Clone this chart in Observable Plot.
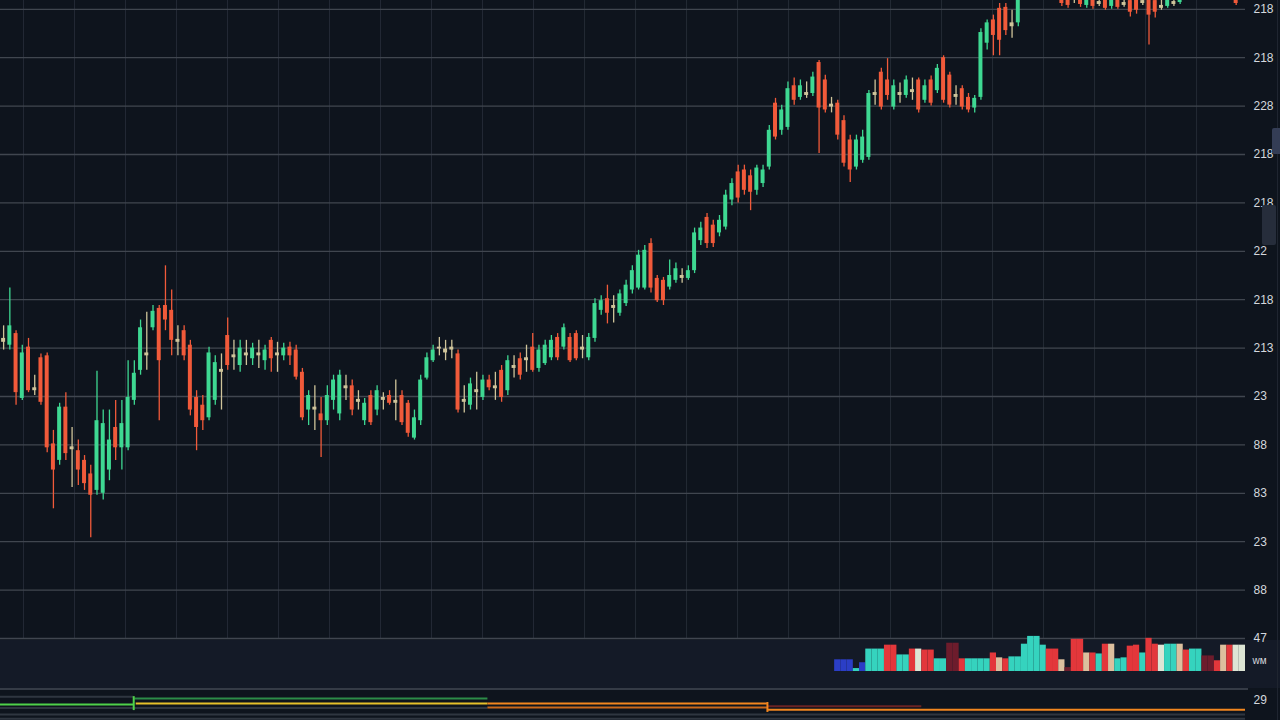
<!DOCTYPE html>
<html>
<head>
<meta charset="utf-8">
<script src="https://cdn.jsdelivr.net/npm/d3@7"></script>
<script src="https://cdn.jsdelivr.net/npm/@observablehq/plot@0.6"></script>
<style>
  html, body { margin: 0; padding: 0; background: #0e141d; }
  #wrap { position: relative; width: 1280px; height: 720px; overflow: hidden; background: #0e141d; font-family: "Liberation Sans", sans-serif; }
  #wrap > div { position: absolute; }
  #volbg { left: 0; top: 640px; width: 1280px; height: 48px; background: #141a27; }
  #sep { left: 0; top: 688px; width: 1248px; height: 2px; background: #353b46; }
  #main { left: 0; top: 0; }
  #vol { left: 0; top: 632px; }
  #ind { left: 0; top: 689px; }
  #tab { left: 1272px; top: 128px; width: 8px; height: 26px; background: #343d55; border-radius: 2px 0 0 2px; }
  #tools { left: 1262px; top: 205px; width: 14px; height: 40px; background: #262d3b; border-radius: 2px; }
  #edge { left: 1277px; top: 0; width: 1px; height: 720px; background: #1f2530; }
</style>
</head>
<body>
<div id="wrap">
  <div id="volbg"></div>
  <div id="sep"></div>
  <div id="edge"></div>
  <div id="main"></div>
  <div id="vol"></div>
  <div id="ind"></div>
  <div id="tab"></div>
  <div id="tools"></div>
</div>
<script>
// ---- price candles (one per session) ----
const opens = [
  306,303,315,248,301,256,290,292,201,184,
  239,195,194,184,170,153,150,174,218,197,
  197,246,277,292,321,341,344,339,306,318,
  303,249,241,228,246,275,313,290,282,292,
  289,292,287,308,292,292,301,298,275,236,
  236,232,225,246,232,258,261,244,225,251,
  236,246,251,243,251,243,207,225,269,287,
  299,295,298,294,244,241,254,249,267,258,
  277,256,279,289,287,301,279,284,290,311,
  301,311,315,298,290,310,339,351,341,336,
  346,360,362,362,408,372,370,363,370,372,
  372,380,411,435,427,419,425,453,482,484,
  478,463,470,487,553,525,528,571,559,561,
  563,595,577,549,553,535,515,487,494,497,
  561,585,577,549,561,561,564,577,556,577,
  566,600,582,559,568,559,548,559,615,639,
  651,652,632,636,675,690,716,706,701,690,
  675,670,663,668,654,664,655,665,653,663,
  654,659,661,656,662,659,651,653,655,657,
  664,675,695,680,701,685,672,690,664,668
];
const closes = [
  310,323,254,295,256,259,244,197,174,239,
  191,198,174,160,148,225,222,205,197,222,
  249,274,321,295,338,287,329,308,309,292,
  236,218,225,295,285,278,282,293,300,295,
  300,295,298,289,295,300,292,270,228,251,
  239,225,251,267,272,261,236,247,243,223,
  256,249,243,246,223,212,228,267,290,298,
  301,299,301,236,247,263,257,267,259,261,
  249,287,282,272,290,277,298,303,308,290,
  321,287,289,301,311,346,349,336,344,356,
  365,380,396,401,362,349,349,375,382,375,
  380,419,424,408,408,432,458,470,455,463,
  461,486,484,525,518,546,568,556,571,564,
  580,548,546,552,520,491,484,515,518,563,
  564,549,561,571,564,577,567,546,571,553,
  589,556,551,562,549,546,558,626,636,623,
  618,628,636,661,701,711,695,685,680,670,
  656,654,666,655,668,653,658,651,664,652,
  657,647,649,659,644,647,654,665,658,670,
  680,695,680,701,685,672,690,675,656,680
];
const highs = [
  323,362,318,303,310,272,294,295,215,243,
  254,218,205,189,179,276,236,236,246,246,
  287,287,329,337,344,344,385,360,323,323,
  308,256,251,301,292,294,331,308,308,308,
  305,308,303,311,306,305,306,303,279,256,
  261,249,261,272,277,272,267,256,248,256,
  261,254,256,267,256,246,236,272,295,303,
  311,308,308,298,261,269,275,272,272,275,
  282,292,292,295,303,315,303,308,313,315,
  325,315,318,313,315,351,354,365,354,360,
  370,385,401,406,413,375,373,391,388,382,
  385,424,430,439,432,437,463,475,489,489,
  484,489,489,530,558,551,575,579,577,575,
  585,597,582,559,556,540,520,520,525,566,
  577,589,599,577,574,581,579,579,577,581,
  593,602,585,571,571,563,561,630,639,644,
  656,656,649,664,706,716,721,711,706,695,
  680,675,675,672,672,670,664,670,668,668,
  663,662,664,664,664,662,664,670,663,675,
  685,701,701,706,706,690,695,695,670,685
];
const lows = [
  298,298,241,246,254,251,241,192,134,179,
  184,156,158,153,104,148,143,163,184,174,
  194,241,272,277,318,225,318,292,292,287,
  230,194,215,225,241,236,277,277,275,282,
  282,279,277,275,275,287,282,267,225,220,
  215,187,220,236,225,246,230,236,220,220,
  230,236,241,225,220,208,205,220,267,285,
  292,287,289,233,233,236,236,246,256,246,
  244,251,269,267,275,275,275,282,287,287,
  298,285,287,289,287,306,334,325,326,333,
  343,356,360,360,357,347,344,360,367,367,
  370,377,406,403,404,415,422,447,450,458,
  442,458,466,484,515,520,525,551,556,558,
  560,501,543,543,515,487,471,484,491,494,
  551,546,556,546,553,558,556,543,553,550,
  563,553,548,551,546,543,543,556,608,602,
  602,623,620,632,670,685,690,680,675,665,
  653,651,656,652,651,650,653,649,650,650,
  652,642,645,654,613,641,649,651,653,655,
  662,672,675,675,680,668,670,670,654,664
];

// ---- price axis ----
const priceTicks  = [0, 50, 100, 150, 200, 250, 300, 350, 400, 450, 500, 550, 600, 650];
const priceLabels = ["47", "88", "23", "83", "88", "23", "213", "218", "22", "218", "218", "228", "218", "218"];

// ---- volume (only the latest sessions are shown) ----
const volFirstSession = 134;
const volumes = [
  12,12,12,3,9,23,23,23,27,27,
  17,17,23,23,22,22,13,13,29,29,
  13,13,13,13,13,19,14,13,15,15,
  28,36,36,27,23,23,12,4,33,33,
  19,19,18,28,28,13,14,26,27,19,
  34,28,27,28,28,28,22,23,23,16,
  16,11,27,27,27,27
];
const volKinds = [
  "b","b","b","t","b","t","t","t","r","r",
  "t","t","r","w","r","r","t","t","m","m",
  "r","t","t","t","t","r","y","r","t","t",
  "t","t","t","t","r","r","y","m","r","r",
  "y","r","t","r","y","t","t","r","r","t",
  "r","r","w","t","t","y","r","t","t","m",
  "m","r","y","r","w","w"
];
const volLabelTicks = [11];
const volLabels = ["ᴡᴍ"];

// ---- lower indicator pane (step segments) ----
const indKey   = ["fast", "base", "slow", "signal", "base", "trend", "lag",  "trend", "drag", "base", "base"];
const indFrom  = [0,      0,      21.6,   21.8,     0,      78.3,    78.3,   123.2,   123.2,  0,      0];
const indTo    = [21.4,   21.4,   78.3,   78.3,     78.3,   123.2,   123.2,  200,     148,    200,    200];
const indValue = [5.2,    7.7,    7.1,    5.5,      4.0,    5.5,     4.2,    3.5,     4.6,    1.9,    0.6];
const indTickKey = ["fast", "trend"];
const indTickAt  = [21.4, 123.2];
const indTickLo  = [3.2, 2.6];
const indTickHi  = [7.7, 5.8];
const indLabelTicks = [6.5];
const indLabels = ["29"];

// ---- build tables ----
const N = opens.length;
const candles = opens.map((o, i) => ({
  t: i, open: o, close: closes[i], high: highs[i], low: lows[i],
  dir: Math.abs(closes[i] - o) <= 4 ? "flat" : closes[i] > o ? "up" : "down"
}));
const vols = volumes.map((v, k) => ({t: volFirstSession + k, v, kind: volKinds[k]}));
const segs = indKey.map((k, i) => ({key: k, from: indFrom[i], to: indTo[i], v: indValue[i]}));
const segTicks = indTickKey.map((k, i) => ({key: k, at: indTickAt[i], lo: indTickLo[i], hi: indTickHi[i]}));

const xDomain = [0, N];
const gridSessions = d3.range(3.7, N, 8.193);
const labelOf = new Map(priceTicks.map((t, i) => [t, priceLabels[i]]));
const baseStyle = {background: "transparent", color: "#d4d8de", fontFamily: "Liberation Sans, sans-serif", fontSize: "12px", overflow: "visible"};

const main = Plot.plot({
  width: 1280, height: 640,
  marginLeft: 0, marginRight: 35, marginTop: 0, marginBottom: 2,
  style: baseStyle,
  x: {domain: xDomain, axis: null},
  y: {domain: [0, 659.1], axis: null},
  color: {domain: ["up", "down", "flat"], range: ["#3ed892", "#f15a3a", "#cfc49a"]},
  marks: [
    Plot.ruleX(gridSessions, {stroke: "#242a35", strokeWidth: 1}),
    Plot.ruleY(priceTicks, {stroke: "#40464f", strokeWidth: 1.3}),
    Plot.ruleX(candles, {x: d => d.t + 0.5, y1: "low", y2: "high", stroke: "dir", strokeWidth: 1.3, clip: true}),
    Plot.rect(candles, {x1: d => d.t + 0.18, x2: d => d.t + 0.82, y1: "open", y2: "close", fill: "dir", clip: true}),
    Plot.axisY(priceTicks, {anchor: "right", label: null, tickSize: 0, tickPadding: 8, tickFormat: d => labelOf.get(d), fill: "#d4d8de"})
  ]
});
document.getElementById("main").append(main);

const vol = Plot.plot({
  width: 1280, height: 56,
  marginLeft: 0, marginRight: 35, marginTop: 0, marginBottom: 17,
  style: baseStyle,
  x: {domain: xDomain, axis: null},
  y: {domain: [0, 40], axis: null, label: null},
  color: {domain: ["b", "t", "r", "m", "y", "w"], range: ["#2b3ec6", "#35d3be", "#e3373b", "#6d1c2c", "#dcbf9e", "#dde5d5"]},
  marks: [
    Plot.rectY(vols, {x1: "t", x2: d => d.t + 1, y: "v", fill: "kind", inset: 0}),
    Plot.axisY(volLabelTicks, {anchor: "right", label: null, tickSize: 0, tickPadding: 7, fontSize: 10, tickFormat: () => volLabels[0], fill: "#d4d8de"})
  ]
});
document.getElementById("vol").append(vol);

const ind = Plot.plot({
  width: 1280, height: 31,
  marginLeft: 0, marginRight: 35, marginTop: 0, marginBottom: 0,
  style: baseStyle,
  x: {domain: xDomain, axis: null},
  y: {domain: [0, 10], axis: null, label: null},
  color: {domain: ["fast", "base", "slow", "signal", "trend", "lag", "drag"],
          range: ["#4fd24a", "#2f3640", "#2c8c48", "#e6c02a", "#f2861f", "#c8681c", "#6b2323"]},
  marks: [
    Plot.ruleY(segs, {y: "v", x1: "from", x2: "to", stroke: "key", strokeWidth: 2}),
    Plot.ruleX(segTicks, {x: "at", y1: "lo", y2: "hi", stroke: "key", strokeWidth: 2}),
    Plot.axisY(indLabelTicks, {anchor: "right", label: null, tickSize: 0, tickPadding: 8, tickFormat: () => indLabels[0], fill: "#d4d8de"})
  ]
});
document.getElementById("ind").append(ind);
</script>
</body>
</html>
